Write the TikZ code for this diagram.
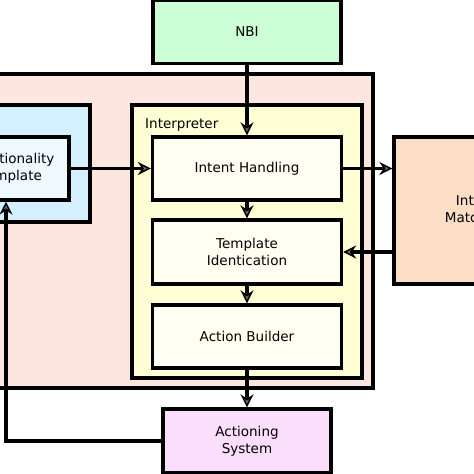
\documentclass[tikz,border=0pt]{standalone}
\usepackage{fontspec}
\setmainfont{DejaVu Sans}
\usepackage{xcolor}
\usetikzlibrary{arrows.meta}

\definecolor{nbigreen}{HTML}{CCFFD6}
\definecolor{enginepink}{HTML}{FDE6DF}
\definecolor{interyellow}{HTML}{FFFFD6}
\definecolor{funcblue}{HTML}{D4F0FF}
\definecolor{funcwhite}{HTML}{EEF8FF}
\definecolor{stepwhite}{HTML}{FFFFF2}
\definecolor{matchpeach}{HTML}{FCDEC6}
\definecolor{actviolet}{HTML}{FBDEFB}

\begin{document}
\begin{tikzpicture}[x=0.02cm,y=-0.02cm,
        every node/.style={font=\fontsize{7.7}{9.5}\selectfont},
        block/.style={draw,line width=1.8pt,inner sep=0pt,align=center},
        flow/.style={line width=1.8pt,-{Stealth[length=7.5pt,width=7.5pt,inset=2.5pt,line width=0.9pt,fill=black!55]}}]
        \useasboundingbox (0,0) rectangle (474,474);

        \coordinate (N)  at (247,32);
        \coordinate (E)  at (176.5,231);
        \coordinate (I)  at (247,241.5);
        \coordinate (F)  at (10,163.5);
        \coordinate (H)  at (247,168.5);
        \coordinate (T)  at (247,252);
        \coordinate (B)  at (247,336.5);
        \coordinate (M)  at (476,210.5);
        \coordinate (S)  at (247,441);

        \node[block,fill=enginepink,minimum width=7.86cm,minimum height=6.28cm] (engine) at (E) {};
        \node[block,fill=interyellow,minimum width=4.6cm,minimum height=5.46cm]  (interp) at (I) {};
        \node[anchor=base west] (interplabel) at (139,128) {Interpreter};
        \node[block,fill=funcblue,minimum width=3.2cm,minimum height=2.34cm]     (funcbox) at (F) {};

        \node[block,fill=nbigreen,minimum width=3.76cm,minimum height=1.26cm]    (nbi) at (N) {NBI};
        \node[block,fill=funcwhite,minimum width=2.32cm,minimum height=1.26cm]   (func) at (11,168.5) {Functionality\\Template};
        \node[block,fill=stepwhite,minimum width=3.78cm,minimum height=1.26cm]   (handling) at (H) {Intent Handling};
        \node[block,fill=stepwhite,minimum width=3.78cm,minimum height=1.28cm]   (ident) at (T) {Template\\Identication};
        \node[block,fill=stepwhite,minimum width=3.78cm,minimum height=1.26cm]   (builder) at (B) {Action Builder};
        \node[block,fill=matchpeach,minimum width=3.28cm,minimum height=2.94cm]  (matching) at (M) {Intent\\Matching};
        \node[block,fill=actviolet,minimum width=3.36cm,minimum height=1.28cm]   (actioning) at (S) {Actioning\\System};

        \coordinate (back) at (6,441);

        \draw[flow] (nbi) -- (handling);
        \draw[flow] (func.east) -- (handling.west);
        \draw[flow] (handling.east) -- (handling.east -| matching.west);
        \draw[flow] (matching.west |- ident.east) -- (ident.east);
        \draw[flow] (handling) -- (ident);
        \draw[flow] (ident) -- (builder);
        \draw[flow] (builder) -- (actioning);
        \draw[flow] (actioning.west) -- (back) -- (back |- func.south);
    \end{tikzpicture}
\end{document}
